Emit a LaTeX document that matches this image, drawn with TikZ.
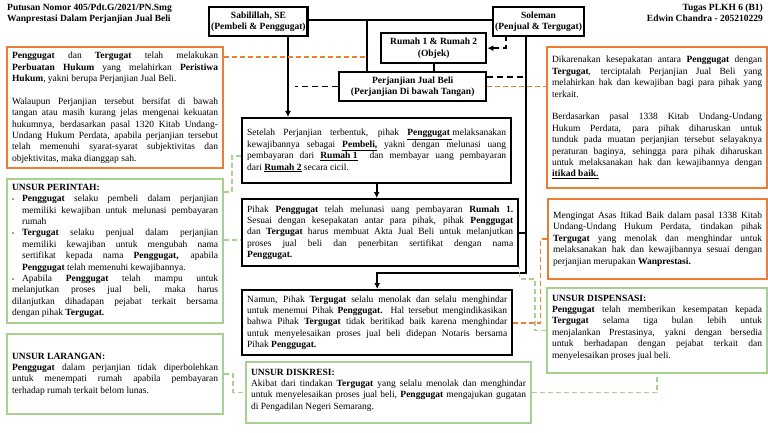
\documentclass[tikz,border=0pt]{standalone}
\usepackage{fontspec}
\setmainfont{Liberation Serif}
\usetikzlibrary{arrows.meta}

\definecolor{oranye}{HTML}{ED7D31}
\definecolor{hijau}{HTML}{A9D18E}
\tolerance=10000
\hyphenpenalty=10000
\newcommand{\butir}{\par\hangindent=10pt\hangafter=1\noindent\makebox[10pt][l]{{\fontsize{6}{6}\selectfont\textbullet}}}

\begin{document}
\begin{tikzpicture}[x=1pt,y=-1pt,
    teks/.style={font=\fontsize{9.5}{11.4}\selectfont, align=justify, inner sep=5pt, anchor=north west, fill=white},
    kotakhitam/.style={teks, draw=black, line width=2.4pt},
    kotakoranye/.style={teks, draw=oranye, line width=2.2pt},
    kotakhijau/.style={teks, draw=hijau, line width=2.2pt},
    pihak/.style={draw=black, line width=2.4pt, font=\bfseries\fontsize{9.5}{11.4}\selectfont, align=center, anchor=north west, inner sep=2pt, fill=white},
    garis/.style={line width=1.6pt},
    panah/.style={line width=1.6pt, -{Latex[length=6pt,width=6pt]}},
    putus/.style={line width=1.6pt, dash pattern=on 6pt off 4pt},
    oranyeputus/.style={draw=oranye, line width=1.6pt, dash pattern=on 5pt off 3pt},
    hijauputus/.style={draw=hijau, line width=1.6pt, dash pattern=on 5pt off 3pt}]

    \fill[white] (0,0) rectangle (768,433);
    \useasboundingbox (0,0) rectangle (768,433);

    % judul
    \node[font=\bfseries\fontsize{9.5}{11}\selectfont, align=left, anchor=north west, inner sep=0pt] (judul) at (7,4)
        {Putusan Nomor 405/Pdt.G/2021/PN.Smg\\Wanprestasi Dalam Perjanjian Jual Beli};
    \node[font=\bfseries\fontsize{9.5}{11}\selectfont, align=right, anchor=north east, inner sep=0pt] (tugas) at (763,4)
        {Tugas PLKH 6 (B1)\\Edwin Chandra - 205210229};

    % para pihak
    \node[pihak, minimum width=93, minimum height=29] (pembeli) at (208,6) {Sabilillah, SE\\(Pembeli \& Penggugat)};
    \node[pihak, minimum width=90, minimum height=29] (penjual) at (492,6) {Soleman\\(Penjual \& Tergugat)};
    \node[pihak, minimum width=105, minimum height=30] (objek) at (380,32) {Rumah 1 \& Rumah 2\\(Objek)};
    \node[pihak, minimum width=147, minimum height=29] (perjanjian) at (338,71) {Perjanjian Jual Beli\\(Perjanjian Di bawah Tangan)};

    \coordinate (tengah) at (367,20);
    \coordinate (jalurkiri) at (288,35);
    \coordinate (jalurkanan) at (526,35);
    \coordinate (jalurobjek) at (506,35);

    % kiri
    \node[kotakoranye, text width=206, minimum height=121] (fakta) at (6,46) {%
        \textbf{Penggugat} dan \textbf{Tergugat} telah melakukan \linebreak
        \textbf{Perbuatan Hukum} yang melahirkan \textbf{Peristiwa} \linebreak
        \textbf{Hukum}, yakni berupa Perjanjian Jual Beli.\par\vspace{11.4pt}
        Walaupun Perjanjian tersebut bersifat di bawah \linebreak
        tangan atau masih kurang jelas mengenai kekuatan \linebreak
        hukumnya, berdasarkan pasal 1320 Kitab Undang-\linebreak
        Undang Hukum Perdata, apabila perjanjian tersebut \linebreak
        telah memenuhi syarat-syarat subjektivitas dan \linebreak
        objektivitas, maka dianggap sah.};
    \node[kotakhijau, text width=206, minimum height=139] (perintah) at (6,178) {%
        \textbf{UNSUR PERINTAH:}
        \butir\textbf{Penggugat} selaku pembeli dalam perjanjian \linebreak
        memiliki kewajiban untuk melunasi pembayaran \linebreak
        rumah
        \butir\textbf{Tergugat} selaku penjual dalam perjanjian \linebreak
        memiliki kewajiban untuk mengubah nama \linebreak
        sertifikat kepada nama \textbf{Penggugat,} apabila \linebreak
        \textbf{Penggugat} telah memenuhi kewajibannya.
        \butir Apabila \textbf{Penggugat} telah mampu untuk \linebreak
        melanjutkan proses jual beli, maka harus \linebreak
        dilanjutkan dihadapan pejabat terkait bersama \linebreak
        dengan pihak \textbf{Tergugat.}};
    \node[kotakhijau, text width=206, minimum height=80] (larangan) at (6,333) {%
        \textbf{UNSUR LARANGAN:}\par
        \textbf{Penggugat} dalam perjanjian tidak diperbolehkan \linebreak
        untuk menempati rumah apabila pembayaran \linebreak
        terhadap rumah terkait belom lunas.};

    % tengah
    \node[kotakhitam, text width=259, minimum height=65] (langkah1) at (241,117) {%
        Setelah Perjanjian terbentuk, pihak \underline{\textbf{Penggugat\ }}melaksanakan \linebreak
        kewajibannya sebagai \underline{\textbf{Pembeli,}} yakni dengan melunasi uang \linebreak
        pembayaran dari \underline{\textbf{Rumah 1}}\ \ dan membayar uang pembayaran \linebreak
        dari \underline{\textbf{Rumah 2}} secara cicil.};
    \node[kotakhitam, text width=266, minimum height=67] (langkah2) at (241,198) {%
        Pihak \textbf{Penggugat} telah melunasi uang pembayaran \textbf{Rumah 1.} \linebreak
        Sesuai dengan kesepakatan antar para pihak, pihak \textbf{Penggugat} \linebreak
        dan \textbf{Tergugat} harus membuat Akta Jual Beli untuk melanjutkan \linebreak
        proses jual beli dan penerbitan sertifikat dengan nama \linebreak
        \textbf{Penggugat.}};
    \node[kotakhitam, text width=260, minimum height=65] (langkah3) at (241,289) {%
        Namun, Pihak \textbf{Tergugat} selalu menolak dan selalu menghindar \linebreak
        untuk menemui Pihak \textbf{Penggugat.} Hal tersebut mengindikasikan \linebreak
        bahwa Pihak \textbf{Tergugat} tidak beritikad baik karena menghindar \linebreak
        untuk menyelesaikan proses jual beli didepan Notaris bersama \linebreak
        Pihak \textbf{Penggugat.}};
    \node[kotakhijau, text width=275, text height=8pt, text depth=43pt] (diskresi) at (245,361) {%
        \textbf{UNSUR DISKRESI:}\par
        Akibat dari tindakan \textbf{Tergugat} yang selalu menolak dan menghindar \linebreak
        untuk menyelesaikan proses jual beli, \textbf{Penggugat} mengajukan gugatan \linebreak
        di Pengadilan Negeri Semarang.};

    % kanan
    \node[kotakoranye, text width=210, minimum height=141] (asas) at (546,46) {%
        Dikarenakan kesepakatan antara \textbf{Penggugat} dengan \linebreak
        \textbf{Tergugat}, terciptalah Perjanjian Jual Beli yang \linebreak
        melahirkan hak dan kewajiban bagi para pihak yang \linebreak
        terkait.\par\vspace{11.4pt}
        Berdasarkan pasal 1338 Kitab Undang-Undang \linebreak
        Hukum Perdata, para pihak diharuskan untuk \linebreak
        tunduk pada muatan perjanjian tersebut selayaknya \linebreak
        peraturan baginya, sehingga para pihak diharuskan \linebreak
        untuk melaksanakan hak dan kewajibannya dengan \linebreak
        \underline{\textbf{itikad baik.}}};
    \node[kotakoranye, text width=209, minimum height=80] (wanprestasi) at (547,198) {%
        Mengingat Asas Itikad Baik dalam pasal 1338 Kitab \linebreak
        Undang-Undang Hukum Perdata, tindakan pihak \linebreak
        \textbf{Tergugat} yang menolak dan menghindar untuk \linebreak
        melaksanakan hak dan kewajibannya sesuai dengan \linebreak
        perjanjian merupakan \textbf{Wanprestasi.}};
    \node[kotakhijau, text width=210, text height=8pt, text depth=67pt] (dispensasi) at (546,287) {%
        \textbf{UNSUR DISPENSASI:}\par
        \textbf{Penggugat} telah memberikan kesempatan kepada \linebreak
        \textbf{Tergugat} selama tiga bulan lebih untuk \linebreak
        menjalankan Prestasinya, yakni dengan bersedia \linebreak
        untuk berhadapan dengan pejabat terkait dan \linebreak
        menyelesaikan proses jual beli.};

    % garis hitam
    \draw[garis] (pembeli.east |- tengah) -- (penjual.west |- tengah);
    \draw[garis] (tengah) -- (tengah |- perjanjian.north);
    \draw[garis] (objek.south) -- (objek.south |- perjanjian.north);
    \draw[putus, -{Latex[length=6pt,width=6pt]}] (jalurobjek) |- (objek.east);
    \draw[panah] (jalurkiri) -- (jalurkiri |- langkah1.north);
    \draw[putus] (perjanjian.west) -- (perjanjian.west -| 295,0);
    \draw[putus] ([yshift=-6pt]perjanjian.north east) -- ([yshift=-6pt]perjanjian.north east -| jalurkanan);
    \draw[panah] (langkah1.south) -- (langkah1.south |- langkah2.north);
    \draw[putus] (langkah2.east) -- (langkah2.east -| jalurkanan);
    \draw[panah] (jalurkanan) |- ([yshift=16pt]langkah3.north) -- (langkah3.north);

    % garis oranye
    \draw[oranyeputus] ([yshift=-11pt]fakta.north east) -- ([yshift=-11pt]fakta.north east -| tengah);
    \draw[oranyeputus] (perjanjian.east) -- (perjanjian.east -| asas.west);
    \draw[oranyeputus] (langkah3.east) -- ++(27,0) |- (wanprestasi.west);

    % garis hijau
    \coordinate (belok) at (535,279);
    \draw[hijauputus] ([yshift=-14pt]perintah.north east) -- ++(8,0) |- ([yshift=-39pt]langkah1.north west);
    \draw[hijauputus] (perintah.east |- 0,240) -- (langkah2.west |- 0,240);
    \draw[hijauputus] (larangan.east) -- ++(9,0) |- (diskresi.west);
    \draw[hijauputus] (diskresi.east) -| (dispensasi.south);
    \draw[hijauputus] (dispensasi.west) -| (belok) -| (langkah2.south east);
\end{tikzpicture}
\end{document}
